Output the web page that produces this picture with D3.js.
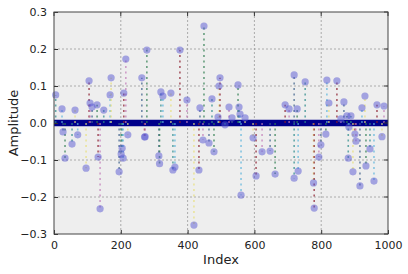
<!DOCTYPE html>
<html>
<head>
<meta charset="utf-8">
<script src="https://cdn.jsdelivr.net/npm/d3@7"></script>
<style>
  body { margin: 0; background: #fff; }
  text { font-family: "DejaVu Sans", sans-serif; fill: #222; }
</style>
</head>
<body>
<div id="chart"></div>
<script>
// Data
const indexValues = [5, 24, 63, 105, 108, 114, 129, 149, 168, 171, 209, 215, 263, 278, 320, 326, 350, 377, 398, 437,
  449, 473, 491, 494, 497, 524, 533, 551, 554, 557, 572, 692, 704, 719, 728, 752, 817, 823, 847, 859,
  868, 877, 889, 922, 931, 967, 988,
  27, 33, 54, 71, 96, 132, 138, 195, 201, 204, 207, 221, 271, 273, 314, 316, 356, 362, 419, 434,
  446, 464, 479, 512, 560, 596, 605, 623, 647, 662, 719, 731, 777, 779, 793, 799, 814, 881, 883, 895,
  901, 904, 916, 934, 946, 958, 982];
const amplitudeValues = [0.076, 0.038, 0.035, 0.114, 0.054, 0.043, 0.049, 0.035, 0.076, 0.122, 0.081, 0.173, 0.122, 0.197, 0.084, 0.073, 0.081, 0.197, 0.062, 0.041,
  0.262, 0.065, 0.016, 0.100, 0.122, 0.043, 0.014, 0.103, 0.043, 0.024, 0.014, 0.049, 0.038, 0.130, 0.038, 0.111, 0.116, 0.054, 0.114, 0.011,
  0.057, 0.019, 0.019, 0.041, 0.073, 0.049, 0.046,
  -0.024, -0.095, -0.057, -0.032, -0.122, -0.092, -0.232, -0.132, -0.084, -0.068, -0.095, -0.032, -0.038, -0.037, -0.089, -0.110, -0.127, -0.119, -0.276, -0.127,
  -0.046, -0.054, -0.078, -0.005, -0.195, -0.040, -0.143, -0.078, -0.076, -0.138, -0.149, -0.130, -0.162, -0.230, -0.092, -0.059, -0.030, -0.095, -0.011, -0.132,
  -0.030, -0.049, -0.170, -0.116, -0.070, -0.157, -0.037];
const xTicks = [0, 200, 400, 600, 800, 1000];
const yTicks = [-0.3, -0.2, -0.1, 0.0, 0.1, 0.2, 0.3];

// Stem colour cycle
const stemColours = ["#2a8a8a", "#5ab4dc", "#e8e07a", "#8b1c2c", "#c27bb8", "#3b5f8b", "#2e7d4f"];

// Dimensions
const dims = {width: 408, height: 274};
const margin = {left: 54, right: 20, top: 12, bottom: 40};
const innerW = dims.width - margin.left - margin.right;
const innerH = dims.height - margin.top - margin.bottom;

// Scales
const x = d3.scaleLinear().domain([0, 1000]).range([0, innerW]);
const y = d3.scaleLinear().domain([-0.3, 0.3]).range([innerH, 0]);

// SVG
const svg = d3.select('#chart')
  .append('svg')
  .attr('width', dims.width)
  .attr('height', dims.height);

const graph = svg.append('g')
  .attr('transform', `translate(${margin.left}, ${margin.top})`);

// Background
graph.append('rect')
  .attr('width', innerW)
  .attr('height', innerH)
  .attr('fill', '#eeeeee');

// Grid
graph.append('g').selectAll('line')
  .data(xTicks.slice(1, -1))
  .enter().append('line')
    .attr('x1', d => x(d)).attr('x2', d => x(d))
    .attr('y1', 0).attr('y2', innerH)
    .attr('stroke', '#999').attr('stroke-width', 0.8)
    .attr('stroke-dasharray', '2,2');

graph.append('g').selectAll('line')
  .data(yTicks.slice(1, -1))
  .enter().append('line')
    .attr('x1', 0).attr('x2', innerW)
    .attr('y1', d => y(d)).attr('y2', d => y(d))
    .attr('stroke', '#999').attr('stroke-width', 0.8)
    .attr('stroke-dasharray', '2,2');

// Baseline
graph.append('line')
  .attr('x1', 0).attr('x2', innerW)
  .attr('y1', y(0)).attr('y2', y(0))
  .attr('stroke', '#00008b')
  .attr('stroke-width', 6.5);

const points = indexValues.map((d, i) => ({idx: d, amp: amplitudeValues[i], n: i}));

// Stems
graph.append('g').selectAll('line')
  .data(points)
  .enter().append('line')
    .attr('x1', d => x(d.idx)).attr('x2', d => x(d.idx))
    .attr('y1', y(0)).attr('y2', d => y(d.amp))
    .attr('stroke', d => stemColours[d.n % stemColours.length])
    .attr('stroke-width', 1.6)
    .attr('stroke-dasharray', '2,3.5')
    .attr('opacity', 0.7);

// Markers
graph.append('g').selectAll('circle')
  .data(points)
  .enter().append('circle')
    .attr('cx', d => x(d.idx))
    .attr('cy', d => y(d.amp))
    .attr('r', 3.6)
    .attr('fill', 'rgb(85,85,210)')
    .attr('fill-opacity', 0.5);

// Axes
const xAxis = d3.axisBottom(x).tickValues(xTicks).tickSizeInner(-4).tickSizeOuter(0).tickPadding(7)
  .tickFormat(d3.format('d'));
const yAxis = d3.axisLeft(y).tickValues(yTicks).tickSizeInner(-4).tickSizeOuter(0).tickPadding(7)
  .tickFormat(d => d3.format('.1f')(d).replace('-', '\u2212'));

const xg = graph.append('g').attr('transform', `translate(0, ${innerH})`).call(xAxis);
const yg = graph.append('g').call(yAxis);
[xg, yg].forEach(g => {
  g.select('.domain').remove();
  g.selectAll('line').attr('stroke', '#333');
  g.selectAll('text').style('font-size', '11px').attr('fill', '#222');
});

// Opposite ticks
graph.append('g').selectAll('line')
  .data(xTicks)
  .enter().append('line')
    .attr('x1', d => x(d)).attr('x2', d => x(d))
    .attr('y1', 0).attr('y2', 4)
    .attr('stroke', '#333');
graph.append('g').selectAll('line')
  .data(yTicks)
  .enter().append('line')
    .attr('x1', innerW).attr('x2', innerW - 4)
    .attr('y1', d => y(d)).attr('y2', d => y(d))
    .attr('stroke', '#333');

// Frame
graph.append('rect')
  .attr('width', innerW)
  .attr('height', innerH)
  .attr('fill', 'none')
  .attr('stroke', '#444')
  .attr('stroke-width', 1);

// Labels
svg.append('text')
  .attr('x', margin.left + innerW / 2)
  .attr('y', 264)
  .attr('text-anchor', 'middle')
  .style('font-size', '13px')
  .text('Index');

svg.append('text')
  .attr('transform', `translate(18, ${margin.top + innerH / 2}) rotate(-90)`)
  .attr('text-anchor', 'middle')
  .style('font-size', '13px')
  .text('Amplitude');
</script>
</body>
</html>
